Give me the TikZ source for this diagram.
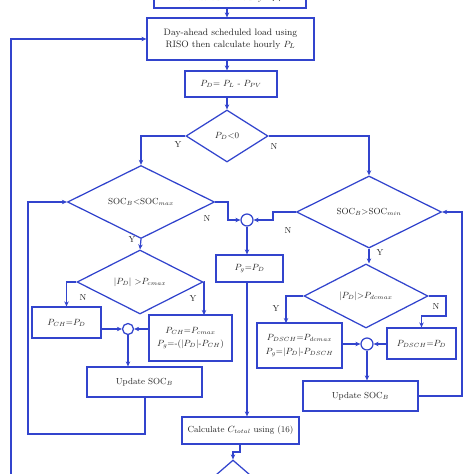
\documentclass[tikz,border=0pt]{standalone}
\usetikzlibrary{shapes.geometric,arrows.meta,calc}
\definecolor{lb}{RGB}{50,68,205}
\definecolor{tx}{RGB}{35,35,35}
\begin{document}
\begin{tikzpicture}[x=1pt,y=-1pt,
  line/.style={draw=lb,line width=1.25pt},
  arr/.style={line,-{Stealth[length=5pt,width=4.5pt]}},
  box/.style={draw=lb,line width=1.25pt,rectangle,inner sep=0pt,text=tx,font=\fontsize{8.8}{11.5}\selectfont,align=center},
  dia/.style={draw=lb,line width=1.25pt,diamond,inner sep=0pt,text=tx,font=\fontsize{8.8}{11}\selectfont},
  junc/.style={draw=lb,line width=1.25pt,circle,inner sep=0pt,fill=white},
  lbl/.style={text=tx,font=\fontsize{8.8}{10}\selectfont,inner sep=0pt}]
\useasboundingbox (0,0) rectangle (474,474);
\clip (0,0) rectangle (474,474);
% boxes
\node[box,minimum width=152,minimum height=40] (B0) at (230,-12) {\raisebox{-26pt}{Then calculate hourly $P_{PV}$}};
\node[box,minimum width=167,minimum height=42,font=\fontsize{9.3}{12}\selectfont] (B1) at (230.5,39) {Day-ahead scheduled load using\\RISO then calculate hourly $P_L$};
\node[box,minimum width=92,minimum height=26] (B2) at (231,84) {$P_D$= $P_L$ - $P_{PV}$};
\node[dia,minimum width=82,minimum height=52] (D1) at (227,136) {$P_D$<0};
\node[dia,minimum width=147,minimum height=55] (D2) at (141,202) {SOC$_B$<SOC$_{max}$};
\node[dia,minimum width=145,minimum height=61] (D3) at (369,212) {SOC$_B$>SOC$_{min}$};
\node[dia,minimum width=126,minimum height=64] (D4) at (140,282) {|$P_D$| >$P_{cmax}$};
\node[dia,minimum width=124,minimum height=64] (D5) at (366,296) {|$P_D$|>$P_{dcmax}$};
\node[dia,minimum width=60,minimum height=52] (D6) at (233,486) {};
\node[junc,minimum size=12] (C1) at (247,220) {};
\node[junc,minimum size=11] (C2) at (128,329) {};
\node[junc,minimum size=12] (C3) at (367,344) {};
\node[box,minimum width=67,minimum height=27] (Pg) at (249.5,268.5) {$P_g$=$P_D$};
\node[box,minimum width=117,minimum height=27] (Calc) at (240.5,430.5) {Calculate $C_{total}$ using (16)};
\node[box,minimum width=69,minimum height=31] (PCH1) at (66.5,322.5) {$P_{CH}$=$P_D$};
\node[box,minimum width=83,minimum height=46] (PCH2) at (190.5,338) {$P_{CH}$=$P_{cmax}$\\[2pt]$P_g$=-(|$P_D$|-$P_{CH}$)};
\node[box,minimum width=115,minimum height=30] (UpdL) at (144.5,382) {Update SOC$_B$};
\node[box,minimum width=85,minimum height=45] (PDS1) at (299.5,345.5) {$P_{DSCH}$=$P_{dcmax}$\\[2pt]$P_g$=|$P_D$|-$P_{DSCH}$};
\node[box,minimum width=69,minimum height=31] (PDS2) at (421.5,343.5) {$P_{DSCH}$=$P_D$};
\node[box,minimum width=115,minimum height=30] (UpdR) at (360.5,396) {Update SOC$_B$};
\coordinate (L0) at (11,480);
% connectors
\draw[arr] (B0.south -| D1.north) -- (B1.north -| D1.north);
\draw[arr] (B1.south -| D1.north) -- (B2.north -| D1.north);
\draw[arr] (B2.south -| D1.north) -- (D1.north);
\draw[arr] (L0) |- (B1.west);
\draw[arr] (D1.west) -| (D2.north);
\draw[arr] (D1.east) -| (D3.north);
\draw[arr] (D2.south) -- (D4.north);
\draw[arr] (D2.east) -- (228,202) |- (C1.west);
\draw[arr] (D3.west) -- (273,212) |- (C1.east);
\draw[arr] (C1.south) -- (C1.south |- Pg.north);
\draw[arr] (C1.south |- Pg.south) -- (C1.south |- Calc.north);
\draw[arr] (240,444) -- (240,452) -| (D6.north);
\draw[arr] (D3.south) -- (D3.south |- D5.north);
\draw[arr] (D4.west) -| (PCH1.north);
\draw[arr] (D4.east) -| (204,315);
\draw[arr] (PCH1.east |- C2) -- (C2.west);
\draw[arr] (PCH2.west |- C2) -- (C2.east);
\draw[arr] (C2.south) -- (C2.south |- UpdL.north);
\draw[arr] (145,397) -- (145,434) -| (28,202) -- (D2.west);
\draw[arr] (D5.west) -| (286,323);
\draw[arr] (D5.east) -- (446,296) -- (446,316) -| (PDS2.north);
\draw[arr] (PDS1.east |- C3) -- (C3.west);
\draw[arr] (PDS2.west |- C3) -- (C3.east);
\draw[arr] (C3.south) -- (C3.south |- UpdR.north);
\draw[arr] (UpdR.east) -- (462,396) |- (D3.east);
% labels
\node[lbl] (y1) at (178,144) {Y};
\node[lbl] (n1) at (274,146) {N};
\node[lbl] (n2) at (207,218) {N};
\node[lbl] (y2) at (132,239) {Y};
\node[lbl] (n3) at (288,230) {N};
\node[lbl] (y3) at (380,252) {Y};
\node[lbl] (n4) at (83,297) {N};
\node[lbl] (y4) at (193,298) {Y};
\node[lbl] (y5) at (276,308) {Y};
\node[lbl] (n5) at (436,306) {N};
\end{tikzpicture}
\end{document}
